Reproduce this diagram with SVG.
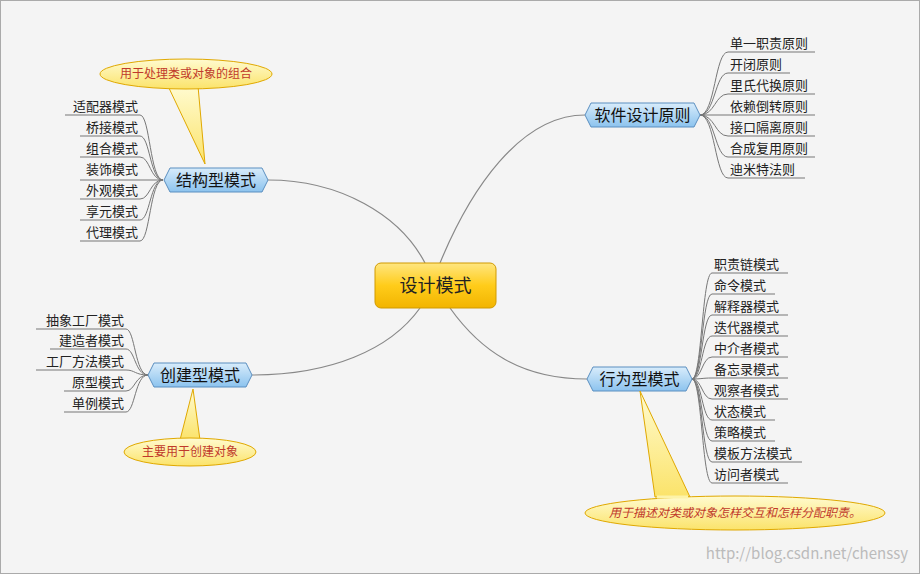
<svg xmlns="http://www.w3.org/2000/svg" width="920" height="574" viewBox="0 0 920 574">
<defs>
<linearGradient id="gold" x1="0" y1="0" x2="0" y2="1"><stop offset="0" stop-color="#ffe680"/><stop offset="0.5" stop-color="#ffcc1a"/><stop offset="1" stop-color="#f2b400"/></linearGradient>
<linearGradient id="blue" x1="0" y1="0" x2="0" y2="1"><stop offset="0" stop-color="#d8ecfb"/><stop offset="1" stop-color="#8cc3ee"/></linearGradient>
<linearGradient id="yel" x1="0" y1="0" x2="0" y2="1"><stop offset="0" stop-color="#fffbd0"/><stop offset="1" stop-color="#fbe36a"/></linearGradient>
</defs>
<style>
text{font-family:"Noto Sans CJK SC","Liberation Sans",sans-serif}
.c{font-size:13px;fill:#222}
.h{fill:url(#blue);stroke:#5b8fc0;stroke-width:1}
.ht{font-size:16px;fill:#111;text-anchor:middle}
.ln{fill:none;stroke:#888;stroke-width:1.2}
.ul{fill:none;stroke:#777;stroke-width:1}
.co{fill:url(#yel);stroke:#e0a800;stroke-width:1}
.ct{font-size:12px;fill:#c0392b;text-anchor:middle}
</style>
<rect x="0" y="0" width="920" height="574" fill="#f4f4f4"/>
<rect x="0.5" y="0.5" width="919" height="573" fill="none" stroke="#aaa"/>
<g id="connectors">
<path class="ln" d="M425,263 C400,215 340,180 268,180"/>
<path class="ln" d="M440,263 C470,190 520,115 585,115"/>
<path class="ln" d="M420,308 C390,350 330,375 252,375"/>
<path class="ln" d="M450,308 C480,350 520,379 587,379"/>
<g class="ul">
<path d="M163,180 C150,180 150,115 140,115 H65"/>
<path d="M163,180 C150,180 150,136 140,136 H80"/>
<path d="M163,180 C150,180 150,157 140,157 H80"/>
<path d="M163,180 H80"/>
<path d="M163,180 C150,180 150,199 140,199 H80"/>
<path d="M163,180 C150,180 150,220 140,220 H80"/>
<path d="M163,180 C150,180 150,241 140,241 H80"/>
<path d="M148,375 C135,375 135,329 126,329 H36"/>
<path d="M148,375 C135,375 135,349 126,349 H50"/>
<path d="M148,375 C135,375 135,370 126,370 H36"/>
<path d="M148,375 C135,375 135,391 126,391 H64"/>
<path d="M148,375 C135,375 135,412 126,412 H64"/>
<path d="M700,115 C715,115 715,52 728,52 H815"/>
<path d="M700,115 C715,115 715,73 728,73 H790"/>
<path d="M700,115 C715,115 715,94 728,94 H815"/>
<path d="M700,115 H815"/>
<path d="M700,115 C715,115 715,136 728,136 H815"/>
<path d="M700,115 C715,115 715,157 728,157 H815"/>
<path d="M700,115 C715,115 715,178 728,178 H805"/>
<path d="M692,379 C702,379 702,273 712,273 H788"/>
<path d="M692,379 C702,379 702,294 712,294 H775"/>
<path d="M692,379 C702,379 702,315 712,315 H788"/>
<path d="M692,379 C702,379 702,336 712,336 H788"/>
<path d="M692,379 C702,379 702,357 712,357 H788"/>
<path d="M692,379 C702,379 702,378 712,378 H788"/>
<path d="M692,379 C702,379 702,399 712,399 H788"/>
<path d="M692,379 C702,379 702,420 712,420 H775"/>
<path d="M692,379 C702,379 702,441 712,441 H775"/>
<path d="M692,379 C702,379 702,462 712,462 H802"/>
<path d="M692,379 C702,379 702,483 712,483 H788"/>
</g>
</g>
<g id="center"><rect x="375" y="263" width="121" height="45" rx="6" fill="url(#gold)" stroke="#d19a00"/><text x="435.5" y="292" font-size="18" text-anchor="middle" fill="#222">设计模式</text></g>
<g id="structural"><polygon class="h" points="170,168 262,168 268,180 262,192 170,192 164,180"/><text class="ht" x="216" y="186">结构型模式</text>
<g class="c" text-anchor="end"><text x="138" y="111">适配器模式</text><text x="138" y="132">桥接模式</text><text x="138" y="153">组合模式</text><text x="138" y="174">装饰模式</text><text x="138" y="195">外观模式</text><text x="138" y="216">享元模式</text><text x="138" y="237">代理模式</text></g></g>
<g id="creational"><polygon class="h" points="154,363 246,363 252,375 246,387 154,387 148,375"/><text class="ht" x="200" y="381">创建型模式</text>
<g class="c" text-anchor="end"><text x="124" y="325">抽象工厂模式</text><text x="124" y="345">建造者模式</text><text x="124" y="366">工厂方法模式</text><text x="124" y="387">原型模式</text><text x="124" y="408">单例模式</text></g></g>
<g id="principles"><polygon class="h" points="591,103 694,103 700,115 694,127 591,127 585,115"/><text class="ht" x="642.5" y="121">软件设计原则</text>
<g class="c"><text x="730" y="48">单一职责原则</text><text x="730" y="69">开闭原则</text><text x="730" y="90">里氏代换原则</text><text x="730" y="111">依赖倒转原则</text><text x="730" y="132">接口隔离原则</text><text x="730" y="153">合成复用原则</text><text x="730" y="174">迪米特法则</text></g></g>
<g id="behavioral"><polygon class="h" points="593,367 686,367 692,379 686,391 593,391 587,379"/><text class="ht" x="639.5" y="385">行为型模式</text>
<g class="c"><text x="714" y="269">职责链模式</text><text x="714" y="290">命令模式</text><text x="714" y="311">解释器模式</text><text x="714" y="332">迭代器模式</text><text x="714" y="353">中介者模式</text><text x="714" y="374">备忘录模式</text><text x="714" y="395">观察者模式</text><text x="714" y="416">状态模式</text><text x="714" y="437">策略模式</text><text x="714" y="458">模板方法模式</text><text x="714" y="479">访问者模式</text></g></g>
<g id="callout1"><path class="co" d="M168,86 L205,164 L198,86 Z"/><ellipse class="co" cx="186" cy="74" rx="86" ry="15"/><path d="M170,86 L196,86" stroke="url(#yel)" stroke-width="3"/><text class="ct" x="186" y="78">用于处理类或对象的组合</text></g>
<g id="callout2"><path class="co" d="M180,440 L193,389 L200,440 Z"/><ellipse class="co" cx="190" cy="452" rx="66" ry="14"/><path d="M182,440 L198,440" stroke="url(#yel)" stroke-width="3"/><text class="ct" x="190" y="456">主要用于创建对象</text></g>
<g id="callout3"><path class="co" d="M655,497 L640,391 L690,497 Z"/><ellipse class="co" cx="735" cy="513" rx="150" ry="17"/><path d="M657,497 L688,497" stroke="#fdf3a8" stroke-width="3"/><text class="ct" x="735" y="517" font-style="italic">用于描述对类或对象怎样交互和怎样分配职责。</text></g>
<text x="908" y="559" font-family="Liberation Mono,monospace" font-size="15" fill="#bbb" text-anchor="end">http://blog.csdn.net/chenssy</text>
</svg>
